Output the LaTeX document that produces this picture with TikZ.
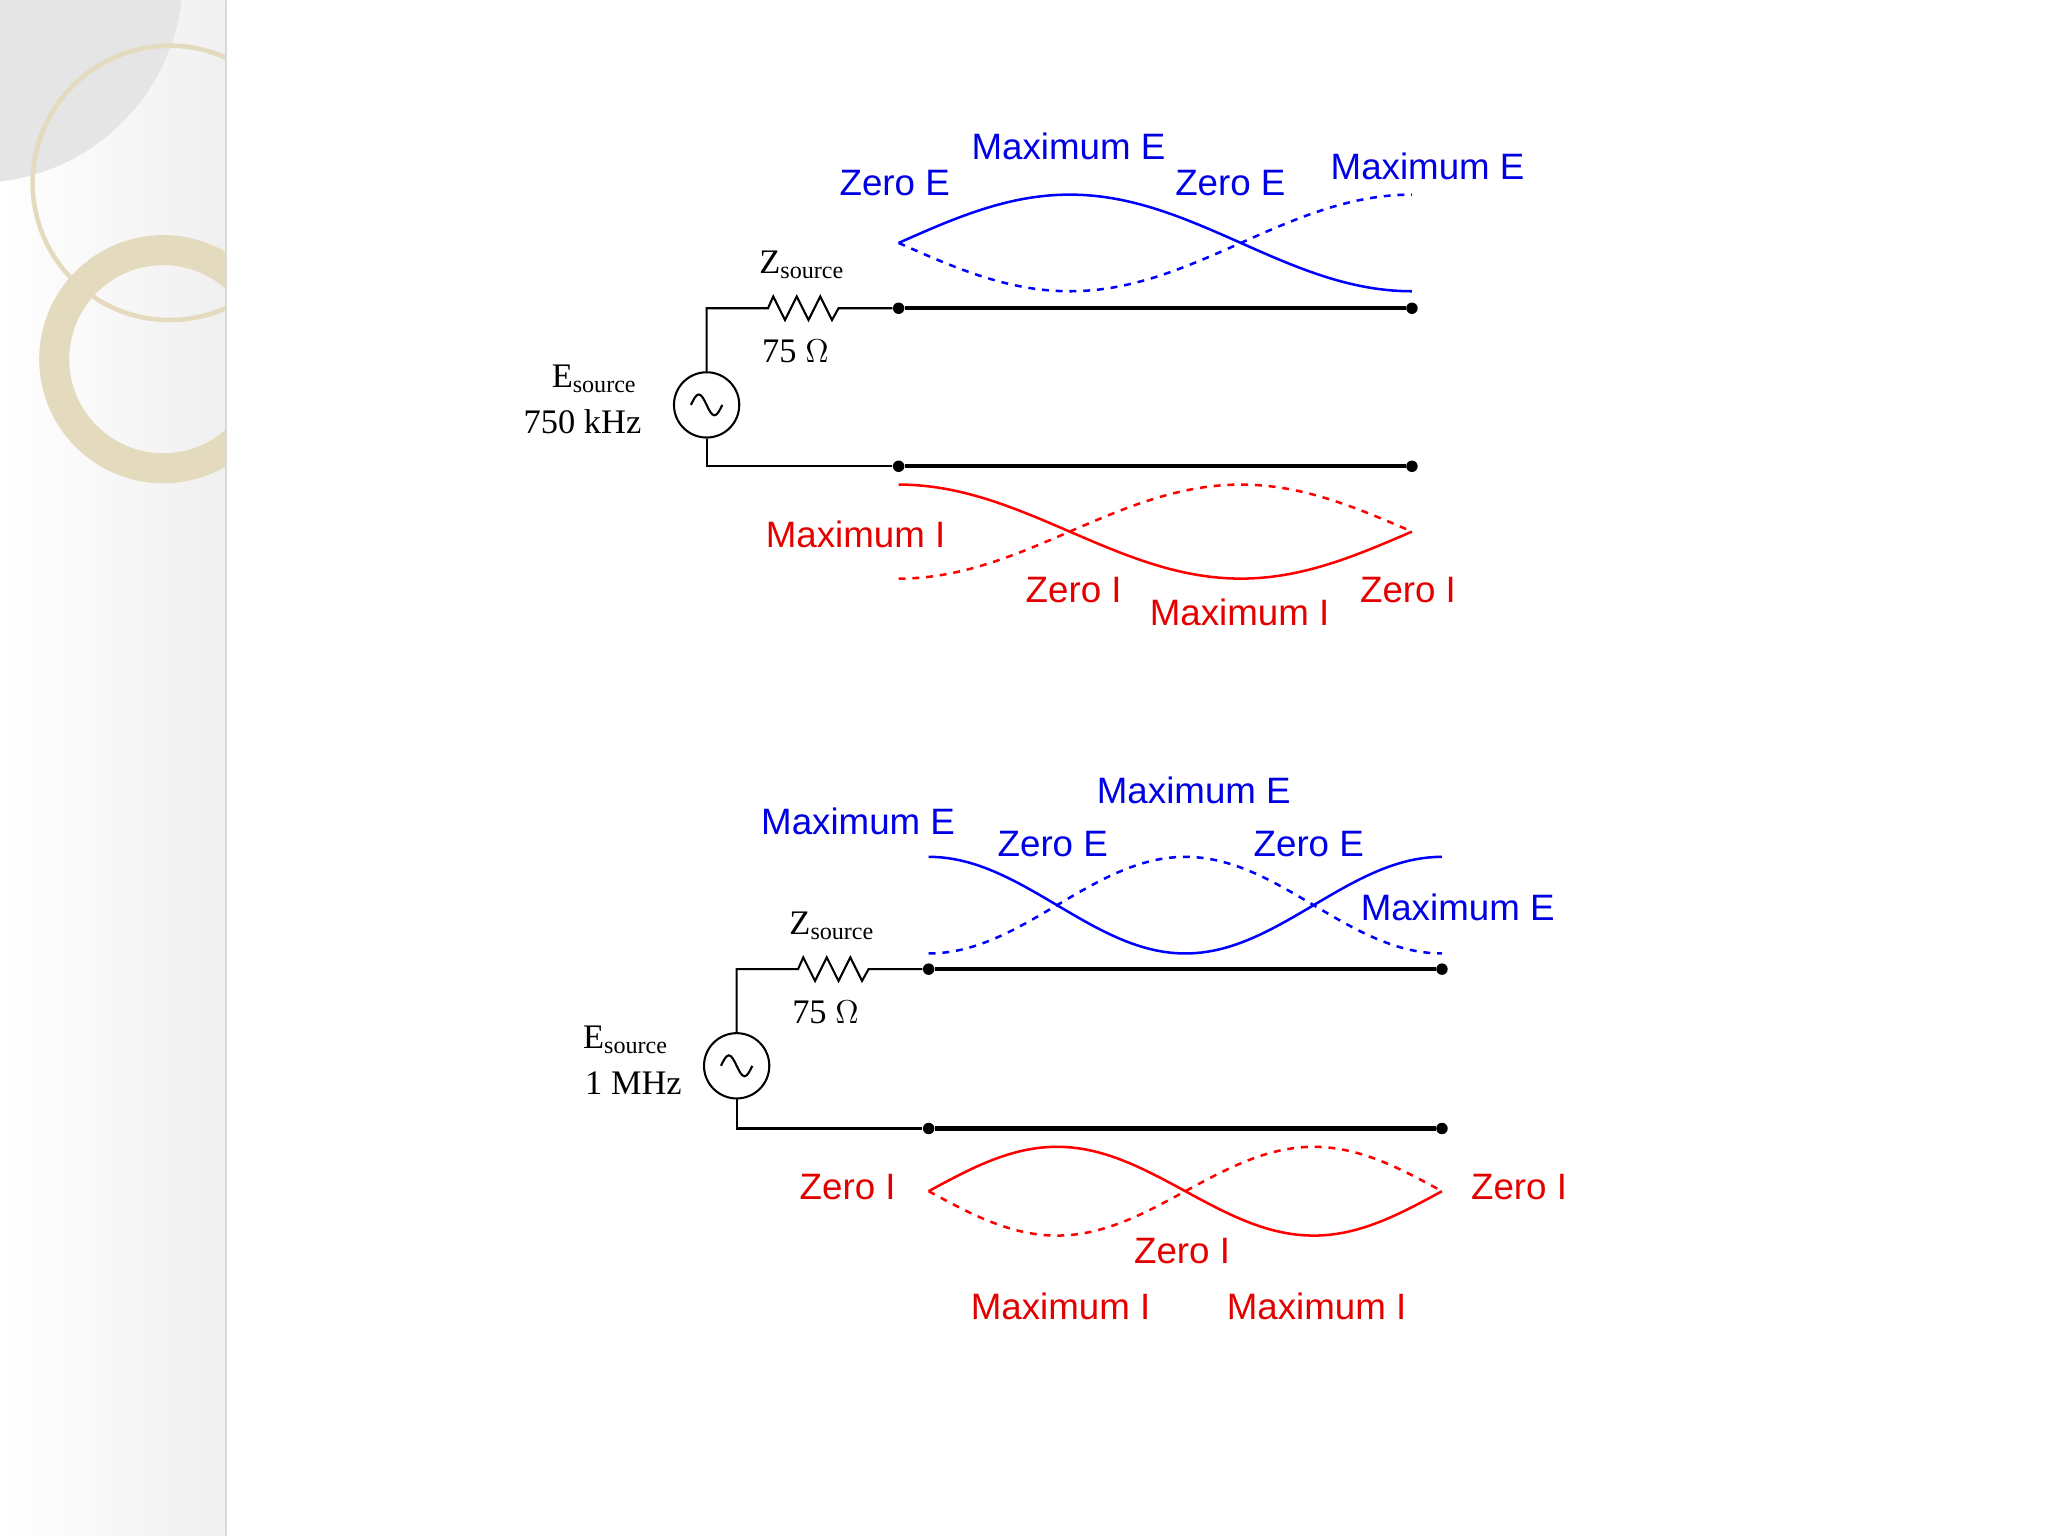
\documentclass[tikz,border=0pt]{standalone}
\usepackage{fontspec}
\setmainfont{Liberation Serif}
\newfontfamily\lab{Liberation Sans}
\definecolor{ringc}{RGB}{228,218,190}
\begin{document}
\begin{tikzpicture}[x=0.02cm,y=-0.02cm,
  bl/.style={font=\lab\fontsize{16}{18}\selectfont,text=blue!90!black,inner sep=0pt},
  rd/.style={font=\lab\fontsize{16}{18}\selectfont,text=red!90!black,inner sep=0pt},
  ck/.style={font=\fontsize{15}{17}\selectfont,inner sep=0pt,align=center},
  wire/.style={line width=0.9pt},
  tl/.style={line width=1.8pt},
  dot/.style={circle,fill,inner sep=0pt,minimum size=5pt},
  src/.style={circle,draw,line width=0.9pt,minimum size=1cm,inner sep=0pt}]
\useasboundingbox (0,0) rectangle (1568,1176);
\fill[white] (0,0) rectangle (1568,1176);
\shade[left color=white,right color=gray!12] (0,0) rectangle (172,1176);
\fill[gray!20] (0,0) -- (140,0) [rounded corners=90pt] -- (140,140) [sharp corners] -- (0,140) -- cycle;
\draw[ringc,line width=2pt] (130,140) circle (105);
\fill[ringc,even odd rule] (125,275) circle (95) (125,275) circle (72);
\fill[white] (172,0) rectangle (1568,1176);
\fill[gray!30] (172,0) rectangle (174,1176);

% ---------- top circuit
\node[src] (s1) at (541,310) {};
\draw[wire] (s1.center)++(-12,0) sin ++(6,-8) cos ++(6,8) sin ++(6,8) cos ++(6,-8);
\node[dot] (a1) at (688,236) {};
\node[dot] (b1) at (1081,236) {};
\node[dot] (c1) at (688,357) {};
\node[dot] (d1) at (1081,357) {};
\coordinate (r1a) at (588,236);
\draw[wire] (s1.north) |- (r1a) -- ++(4,-9) -- ++(9,18) -- ++(9,-18) -- ++(9,18) -- ++(9,-18) -- ++(9,18) -- ++(5,-9) -- (a1);
\draw[wire] (s1.south) |- (c1);
\draw[tl] (a1) -- (b1); \draw[tl] (c1) -- (d1);
\node[ck] (z1) at (614,203) {Z\textsubscript{source}};
\node[ck] (o1) at (609,269) {75 $\Omega$};
\node[ck] (e1) at (455,290) {E\textsubscript{source}};
\node[ck] (f1) at (446,323) {750 kHz};
\draw[blue,line width=1.1pt,domain=688:1081,samples=80] plot (\x,{186-37*sin((\x-688)/524*360)});
\draw[blue,line width=1.1pt,dashed,domain=688:1081,samples=80] plot (\x,{186+37*sin((\x-688)/524*360)});
\draw[red,line width=1.1pt,domain=688:1081,samples=80] plot (\x,{407-36*cos((\x-688)/524*360)});
\draw[red,line width=1.1pt,dashed,domain=688:1081,samples=80] plot (\x,{407+36*cos((\x-688)/524*360)});
\node[bl] (t1) at (685,140) {Zero E};
\node[bl] (t2) at (818,112) {Maximum E};
\node[bl] (t3) at (942,140) {Zero E};
\node[bl] (t4) at (1093,127) {Maximum E};
\node[rd] (t5) at (655,409) {Maximum I};
\node[rd] (t6) at (822,452) {Zero I};
\node[rd] (t7) at (949,469) {Maximum I};
\node[rd] (t8) at (1078,452) {Zero I};

% ---------- bottom circuit
\node[src] (s2) at (564,816) {};
\draw[wire] (s2.center)++(-12,0) sin ++(6,-8) cos ++(6,8) sin ++(6,8) cos ++(6,-8);
\node[dot] (a2) at (711,742) {};
\node[dot] (b2) at (1104,742) {};
\node[dot] (c2) at (711,864) {};
\node[dot] (d2) at (1104,864) {};
\coordinate (r2a) at (611,742);
\draw[wire] (s2.north) |- (r2a) -- ++(4,-9) -- ++(9,18) -- ++(9,-18) -- ++(9,18) -- ++(9,-18) -- ++(9,18) -- ++(5,-9) -- (a2);
\draw[wire] (s2.south) |- (c2);
\draw[tl] (a2) -- (b2); \draw[tl] (c2) -- (d2);
\node[ck] (z2) at (637,709) {Z\textsubscript{source}};
\node[ck] (o2) at (632,775) {75 $\Omega$};
\node[ck] (e2) at (479,796) {E\textsubscript{source}};
\node[ck] (f2) at (485,829) {1 MHz};
\draw[blue,line width=1.1pt,domain=711:1104,samples=80] plot (\x,{693-37*cos((\x-711)/393*360)});
\draw[blue,line width=1.1pt,dashed,domain=711:1104,samples=80] plot (\x,{693+37*cos((\x-711)/393*360)});
\draw[red,line width=1.1pt,domain=711:1104,samples=80] plot (\x,{912-34*sin((\x-711)/393*360)});
\draw[red,line width=1.1pt,dashed,domain=711:1104,samples=80] plot (\x,{912+34*sin((\x-711)/393*360)});
\node[bl] (u1) at (657,629) {Maximum E};
\node[bl] (u2) at (806,646) {Zero E};
\node[bl] (u3) at (914,605) {Maximum E};
\node[bl] (u4) at (1002,646) {Zero E};
\node[bl] (u5) at (1116,695) {Maximum E};
\node[rd] (u6) at (649,909) {Zero I};
\node[rd] (u7) at (905,958) {Zero I};
\node[rd] (u8) at (1163,909) {Zero I};
\node[rd] (u9) at (812,1000) {Maximum I};
\node[rd] (u10) at (1008,1000) {Maximum I};
\end{tikzpicture}
\end{document}
